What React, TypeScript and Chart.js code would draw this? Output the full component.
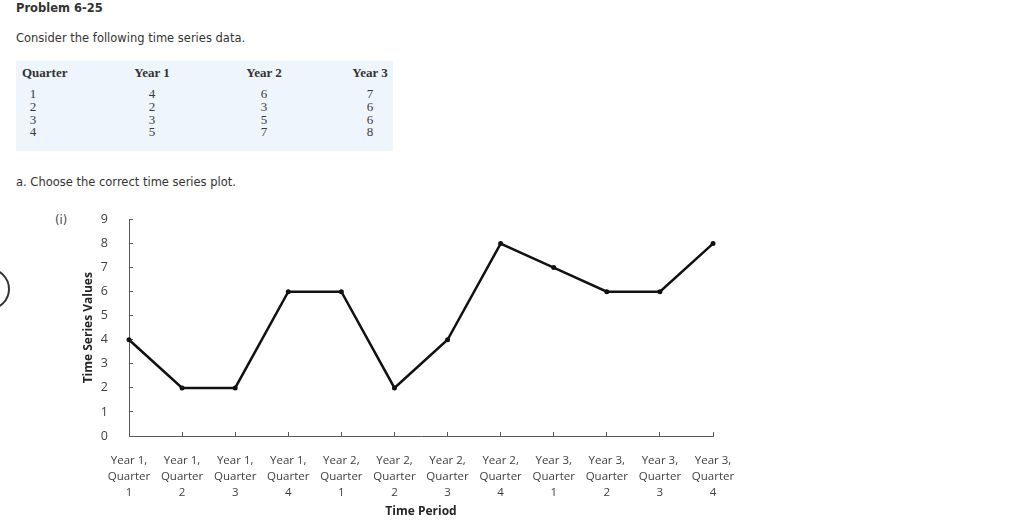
import React, { useEffect, useRef } from "react";
import { Chart, registerables } from "chart.js";

Chart.register(...registerables);

// Table data
const quarters = ["1", "2", "3", "4"];
const year1 = [4, 2, 3, 5];
const year2 = [6, 3, 5, 7];
const year3 = [7, 6, 6, 8];
const tableHeaders = ["Quarter", "Year 1", "Year 2", "Year 3"];

// Plot (i) data
const periodLabels: string[][] = [
  ["Year 1,", "Quarter", "1"],
  ["Year 1,", "Quarter", "2"],
  ["Year 1,", "Quarter", "3"],
  ["Year 1,", "Quarter", "4"],
  ["Year 2,", "Quarter", "1"],
  ["Year 2,", "Quarter", "2"],
  ["Year 2,", "Quarter", "3"],
  ["Year 2,", "Quarter", "4"],
  ["Year 3,", "Quarter", "1"],
  ["Year 3,", "Quarter", "2"],
  ["Year 3,", "Quarter", "3"],
  ["Year 3,", "Quarter", "4"],
];
const plotValues = [4, 2, 2, 6, 6, 2, 4, 8, 7, 6, 6, 8];
const yMin = 0;
const yMax = 9;

const AXIS_FONT = "'Open Sans', 'Noto Sans', sans-serif";

function PlotChart() {
  const ref = useRef<HTMLCanvasElement | null>(null);
  useEffect(() => {
    if (!ref.current) return;
    const chart = new Chart(ref.current, {
      type: "line",
      data: {
        labels: periodLabels,
        datasets: [
          {
            data: plotValues,
            borderColor: "#111111",
            backgroundColor: "#111111",
            borderWidth: 2.5,
            pointRadius: 2.5,
            pointBorderWidth: 0,
            pointBackgroundColor: "#111111",
            tension: 0,
            fill: false,
          },
        ],
      },
      options: {
        responsive: false,
        animation: false,
        devicePixelRatio: 1,
        layout: { padding: { left: 0, top: 0, right: 47, bottom: 0 } },
        plugins: { legend: { display: false }, tooltip: { enabled: false } },
        scales: {
          x: {
            type: "category",
            offset: false,
            afterFit: (s: any) => {
              s.height = 87;
            },
            border: { display: true, color: "#595959", width: 1 },
            grid: {
              drawOnChartArea: false,
              drawTicks: true,
              tickLength: -4,
              color: "#595959",
            },
            ticks: {
              maxRotation: 0,
              minRotation: 0,
              autoSkip: false,
              padding: 21,
              color: "#404040",
              font: { family: AXIS_FONT, size: 11.5, lineHeight: 16 / 11.5 },
            },
            title: {
              display: true,
              text: "Time Period",
              color: "#262626",
              font: { family: AXIS_FONT, size: 12, weight: "bold" },
              padding: { top: 0, bottom: 4 },
            },
          },
          y: {
            min: yMin,
            max: yMax,
            afterFit: (s: any) => {
              s.width = 59;
            },
            border: { display: true, color: "#595959", width: 1 },
            grid: {
              drawOnChartArea: false,
              drawTicks: true,
              tickLength: -4,
              color: "#595959",
            },
            ticks: {
              stepSize: 1,
              padding: 25,
              color: "#404040",
              font: { family: AXIS_FONT, size: 12.5 },
            },
            title: {
              display: true,
              text: "Time Series Values",
              color: "#262626",
              font: { family: AXIS_FONT, size: 12, weight: "bold" },
              padding: { top: 11, bottom: 0 },
            },
          },
        },
      },
    });
    return () => chart.destroy();
  }, []);
  return (
    <canvas
      ref={ref}
      width={690}
      height={336}
      style={{ position: "absolute", left: 70, top: 187, width: 690, height: 336 }}
    />
  );
}

const sansText: React.CSSProperties = {
  position: "absolute",
  fontFamily: "'DejaVu Sans', Verdana, sans-serif",
  color: "#333333",
  whiteSpace: "nowrap",
  margin: 0,
};

const serif: React.CSSProperties = {
  position: "absolute",
  fontFamily: "'Liberation Serif', 'Times New Roman', serif",
  color: "#333333",
  whiteSpace: "nowrap",
  transform: "translateX(-50%)",
  lineHeight: "14px",
};

const colCenters = [33, 152, 264, 370];
const rowCenters = [94, 107, 120, 132];

export default function App() {
  const columns = [quarters, year1, year2, year3];
  return (
    <div
      style={{
        position: "absolute",
        left: 0,
        top: 0,
        width: 1024,
        height: 523,
        background: "#ffffff",
        overflow: "hidden",
      }}
    >
      <div style={{ ...sansText, left: 16, top: 1, fontSize: 11.5, lineHeight: "15px", fontWeight: "bold" }}>
        Problem 6-25
      </div>
      <div style={{ ...sansText, left: 16, top: 30, fontSize: 11.5, lineHeight: "16px" }}>
        Consider the following time series data.
      </div>

      <div
        style={{
          position: "absolute",
          left: 16,
          top: 61,
          width: 377,
          height: 90,
          background: "#eef5fc",
        }}
      />
      <div
        style={{
          ...serif,
          transform: "none",
          left: 22,
          top: 66,
          fontSize: 13,
          fontWeight: "bold",
        }}
      >
        {tableHeaders[0]}
      </div>
      {tableHeaders.slice(1).map((h, i) => (
        <div key={h} style={{ ...serif, left: colCenters[i + 1], top: 66, fontSize: 13, fontWeight: "bold" }}>
          {h}
        </div>
      ))}
      {columns.map((col, ci) =>
        col.map((v, ri) => (
          <div
            key={ci + "-" + ri}
            style={{ ...serif, left: colCenters[ci], top: rowCenters[ri] - 7, fontSize: 13, color: "#3a3a3a" }}
          >
            {String(v)}
          </div>
        ))
      )}

      <div style={{ ...sansText, left: 16, top: 174, fontSize: 11.5, lineHeight: "16px" }}>
        a. Choose the correct time series plot.
      </div>
      <div style={{ ...sansText, left: 55, top: 212, fontSize: 11.5, lineHeight: "16px", color: "#444" }}>
        (i)
      </div>
      <div
        style={{
          position: "absolute",
          left: -32,
          top: 268,
          width: 42,
          height: 42,
          borderRadius: "50%",
          border: "2px solid #333",
          boxSizing: "border-box",
        }}
      />
      <PlotChart />
    </div>
  );
}
